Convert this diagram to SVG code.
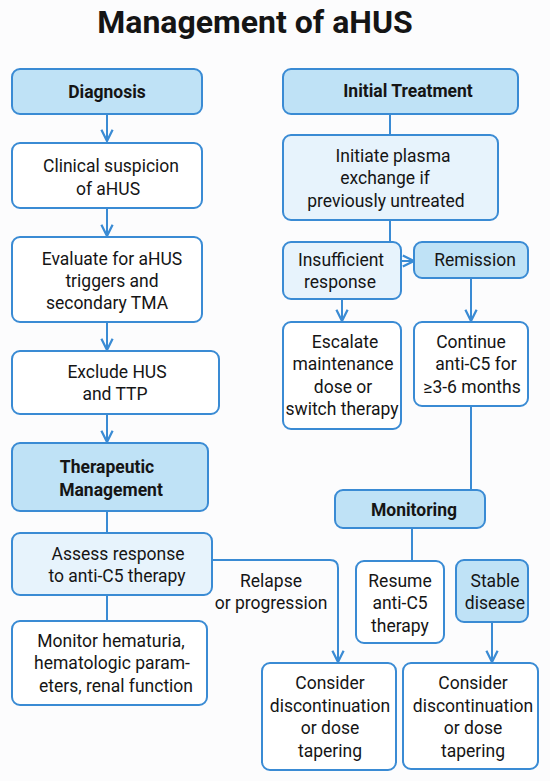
<svg xmlns="http://www.w3.org/2000/svg" width="550" height="781" viewBox="0 0 550 781">
<defs>
<marker id="arr" viewBox="0 0 10 10" refX="9" refY="5" markerWidth="14" markerHeight="14" markerUnits="userSpaceOnUse" orient="auto">
<path d="M1,1 L9,5 L1,9" fill="none" stroke="#3a8bd4" stroke-width="1.6"/>
</marker>
<style>
.box{stroke:#3a8bd4;stroke-width:2;fill:#ffffff}
.hdr{fill:#bfe2f6}
.lt{fill:#e7f3fc}
.t{font-family:Roboto,"Noto Sans","Liberation Sans",sans-serif;font-size:17.5px;fill:#151515;text-anchor:middle}
.b{font-weight:bold}
.c{fill:none;stroke:#3a8bd4;stroke-width:2}
</style>
</defs>
<rect width="550" height="781" fill="#fcfcfd"/>
<text x="255" y="33" class="t b" style="font-size:32px">Management of aHUS</text>

<g id="connectors">
<path class="c" d="M107,114 V141" marker-end="url(#arr)"/>
<path class="c" d="M107,208 V236" marker-end="url(#arr)"/>
<path class="c" d="M107,322 V350" marker-end="url(#arr)"/>
<path class="c" d="M107,414 V442" marker-end="url(#arr)"/>
<path class="c" d="M107,511 V533"/>
<path class="c" d="M107,595 V621"/>
<path class="c" d="M212,560 H330 Q338,560 338,568 V662" marker-end="url(#arr)"/>
<path class="c" d="M390,114 V135"/>
<path class="c" d="M390,220 V242"/>
<path class="c" d="M401,261 H414" marker-end="url(#arr)"/>
<path class="c" d="M342,299 V321" marker-end="url(#arr)"/>
<path class="c" d="M471,278 V321" marker-end="url(#arr)"/>
<path class="c" d="M471,406 V490"/>
<path class="c" d="M412,528 V561"/>
<path class="c" d="M492,622 V662" marker-end="url(#arr)"/>
</g>

<g id="diagnosis"><rect class="box hdr" x="12" y="69" width="190" height="45" rx="8"/><text class="t b" x="107" y="98">Diagnosis</text></g>
<g id="clinical"><rect class="box" x="12" y="143" width="190" height="65" rx="8"/><text class="t" x="111" y="172">Clinical suspicion</text><text class="t" x="108" y="195">of aHUS</text></g>
<g id="evaluate"><rect class="box" x="12" y="237" width="190" height="85" rx="8"/><text class="t" x="112" y="265">Evaluate for aHUS</text><text class="t" x="112" y="287">triggers and</text><text class="t" x="107" y="309">secondary TMA</text></g>
<g id="exclude"><rect class="box" x="12" y="351" width="207" height="63" rx="8"/><text class="t" x="117" y="378">Exclude HUS</text><text class="t" x="115" y="400">and TTP</text></g>
<g id="therapeutic"><rect class="box hdr" x="12" y="443" width="196" height="68" rx="8"/><text class="t b" x="107" y="473">Therapeutic</text><text class="t b" x="111" y="496">Management</text></g>
<g id="assess"><rect class="box lt" x="12" y="533" width="200" height="62" rx="8"/><text class="t" x="118" y="560">Assess response</text><text class="t" x="117" y="582">to anti-C5 therapy</text></g>
<g id="monitor"><rect class="box" x="12" y="621" width="195" height="84" rx="8"/><text class="t" x="111" y="647">Monitor hematuria,</text><text class="t" x="112" y="669">hematologic param-</text><text class="t" x="116" y="692">eters, renal function</text></g>

<g id="relapse-label"><text class="t" x="271" y="587">Relapse</text><text class="t" x="271" y="609">or progression</text></g>

<g id="initial"><rect class="box hdr" x="283" y="69" width="235" height="45" rx="8"/><text class="t b" x="408" y="97">Initial Treatment</text></g>
<g id="plasma"><rect class="box lt" x="283" y="135" width="215" height="85" rx="8"/><text class="t" x="393" y="162">Initiate plasma</text><text class="t" x="385" y="184">exchange if</text><text class="t" x="386" y="207">previously untreated</text></g>
<g id="insufficient"><rect class="box lt" x="283" y="242" width="118" height="57" rx="8"/><text class="t" x="341" y="266">Insufficient</text><text class="t" x="340" y="288">response</text></g>
<g id="remission"><rect class="box hdr" x="414" y="242" width="114" height="36" rx="8"/><text class="t" x="475" y="266">Remission</text></g>
<g id="escalate"><rect class="box" x="283" y="322" width="118" height="107" rx="8"/><text class="t" x="345" y="348">Escalate</text><text class="t" x="343" y="370">maintenance</text><text class="t" x="343" y="393">dose or</text><text class="t" x="342" y="415">switch therapy</text></g>
<g id="continue"><rect class="box" x="414" y="322" width="114" height="84" rx="8"/><text class="t" x="471" y="348">Continue</text><text class="t" x="476" y="370">anti-C5 for</text><text class="t" x="472" y="393">≥3-6 months</text></g>
<g id="monitoring"><rect class="box hdr" x="335" y="490" width="150" height="38" rx="8"/><text class="t b" x="414" y="516">Monitoring</text></g>
<g id="resume"><rect class="box" x="356" y="561" width="88" height="82" rx="8"/><text class="t" x="400" y="587">Resume</text><text class="t" x="400" y="609">anti-C5</text><text class="t" x="400" y="632">therapy</text></g>
<g id="stable"><rect class="box hdr" x="456" y="560" width="72" height="62" rx="8"/><text class="t" x="495" y="587">Stable</text><text class="t" x="495" y="609">disease</text></g>
<g id="consider1"><rect class="box" x="262" y="663" width="134" height="107" rx="8"/><text class="t" x="330" y="689">Consider</text><text class="t" x="330" y="712">discontinuation</text><text class="t" x="330" y="734">or dose</text><text class="t" x="330" y="757">tapering</text></g>
<g id="consider2"><rect class="box" x="403" y="663" width="135" height="106" rx="8"/><text class="t" x="473" y="689">Consider</text><text class="t" x="473" y="712">discontinuation</text><text class="t" x="473" y="734">or dose</text><text class="t" x="473" y="757">tapering</text></g>
</svg>
